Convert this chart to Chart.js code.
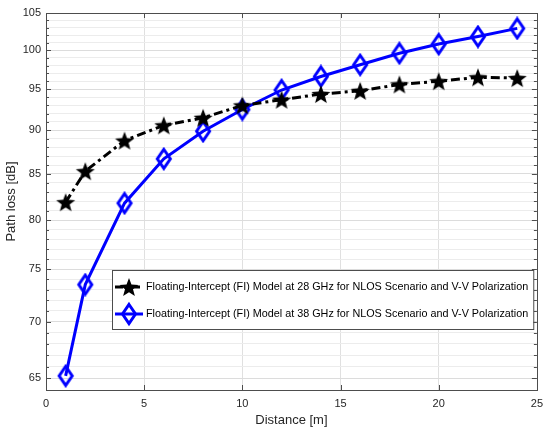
<!DOCTYPE html>
<html>
<head>
<meta charset="utf-8">
<script src="https://cdn.jsdelivr.net/npm/chart.js@4.4.1/dist/chart.umd.min.js"></script>
<style>
  html, body { margin: 0; padding: 0; background: #fff; }
  #wrap { width: 550px; height: 433px; }
</style>
</head>
<body>
<div id="wrap"><canvas id="grafico"></canvas></div>
<script>
// Dados
const distancias = [1, 2, 4, 6, 8, 10, 12, 14, 16, 18, 20, 22, 24];
const perda28 = [81.9, 85.3, 88.8, 90.6, 91.5, 93.0, 93.7, 94.4, 94.8, 95.6, 96.0, 96.5, 96.4];
const perda38 = [65.2, 73.5, 81.8, 86.7, 89.9, 92.5, 94.9, 96.6, 98.1, 99.6, 100.8, 101.8, 102.9];
const ticksX = [0, 5, 10, 15, 20, 25];
const ticksY = [65, 70, 75, 80, 85, 90, 95, 100, 105];
const nomes = [
    'Floating-Intercept (FI) Model at 28 GHz for NLOS Scenario and V-V Polarization',
    'Floating-Intercept (FI) Model at 38 GHz for NLOS Scenario and V-V Polarization'
];

const familia = '"Liberation Sans", Arial, sans-serif';
const fonte = { family: familia, size: 11 };
const fonteTitulo = { family: familia, size: 13 };
const corTexto = '#262626';
const corEixo = '#4d4d4d';

// Marcadores desenhados em canvas
function desenhaEstrela(ctx, cx, cy, r) {
    ctx.beginPath();
    for (let i = 0; i < 10; i++) {
        const raio = i % 2 === 0 ? r : r * 0.42;
        const ang = -Math.PI / 2 + i * Math.PI / 5;
        const x = cx + raio * Math.cos(ang);
        const y = cy + raio * Math.sin(ang);
        i === 0 ? ctx.moveTo(x, y) : ctx.lineTo(x, y);
    }
    ctx.closePath();
    ctx.fillStyle = '#000';
    ctx.fill();
}

function desenhaLosango(ctx, cx, cy, w, h) {
    ctx.beginPath();
    ctx.moveTo(cx, cy - h / 2);
    ctx.lineTo(cx + w / 2, cy);
    ctx.lineTo(cx, cy + h / 2);
    ctx.lineTo(cx - w / 2, cy);
    ctx.closePath();
    ctx.strokeStyle = '#0000ff';
    ctx.lineWidth = 3;
    ctx.lineJoin = 'miter';
    ctx.stroke();
}

function marcador(tipo) {
    const c = document.createElement('canvas');
    c.width = 22; c.height = 24;
    const ctx = c.getContext('2d');
    if (tipo === 'estrela') desenhaEstrela(ctx, 11, 13, 10);
    else desenhaLosango(ctx, 11, 12, 13, 19);
    return c;
}

const estrela = marcador('estrela');
const losango = marcador('losango');

// Legenda dentro da área do gráfico
const legendaInterna = {
    id: 'legendaInterna',
    afterDraw(chart) {
        const { ctx, chartArea } = chart;
        ctx.save();
        ctx.font = `10.8px ${familia}`;
        const textoW = Math.max(...nomes.map(n => ctx.measureText(n).width));
        const x0 = chartArea.left + 66;
        const y0 = chartArea.top + 257;
        const w = 34 + textoW + 5;
        const h = 59;
        ctx.fillStyle = '#fff';
        ctx.fillRect(x0, y0, w, h);
        ctx.strokeStyle = corEixo;
        ctx.lineWidth = 1;
        ctx.strokeRect(x0 + 0.5, y0 + 0.5, w, h);

        const linhas = [
            { y: y0 + 17, cor: '#000', dash: [8, 3, 3, 3], tipo: 'estrela' },
            { y: y0 + 44, cor: '#0000ff', dash: [], tipo: 'losango' }
        ];
        linhas.forEach((l, i) => {
            ctx.beginPath();
            ctx.setLineDash(l.dash);
            ctx.strokeStyle = l.cor;
            ctx.lineWidth = 3;
            ctx.moveTo(x0 + 3, l.y);
            ctx.lineTo(x0 + 31, l.y);
            ctx.stroke();
            ctx.setLineDash([]);
            if (l.tipo === 'estrela') desenhaEstrela(ctx, x0 + 17, l.y + 1, 10);
            else desenhaLosango(ctx, x0 + 17, l.y, 13, 19);
            ctx.fillStyle = '#000';
            ctx.textBaseline = 'middle';
            ctx.fillText(nomes[i], x0 + 34, l.y);
        });
        ctx.restore();
    }
};

// Caixa dos eixos com marcas internas (estilo MATLAB)
const caixaEixos = {
    id: 'caixaEixos',
    afterDatasetsDraw(chart) {
        const { ctx, chartArea: a, scales } = chart;
        ctx.save();
        ctx.strokeStyle = corEixo;
        ctx.lineWidth = 1;
        ctx.strokeRect(Math.round(a.left) + 0.5, Math.round(a.top) + 0.5,
            Math.round(a.right - a.left), Math.round(a.bottom - a.top));
        ctx.beginPath();
        scales.y.ticks.forEach(t => {
            const y = Math.round(scales.y.getPixelForValue(t.value)) + 0.5;
            const len = ticksY.includes(t.value) ? 5 : 3;
            ctx.moveTo(a.left, y); ctx.lineTo(a.left + len, y);
            ctx.moveTo(a.right, y); ctx.lineTo(a.right - len, y);
        });
        ticksX.forEach(v => {
            const x = Math.round(scales.x.getPixelForValue(v)) + 0.5;
            ctx.moveTo(x, a.bottom); ctx.lineTo(x, a.bottom - 5);
            ctx.moveTo(x, a.top); ctx.lineTo(x, a.top + 5);
        });
        ctx.stroke();
        ctx.restore();
    }
};

const ctxGrafico = document.getElementById('grafico').getContext('2d');
const grafico = new Chart(ctxGrafico, {
    type: 'line',
    data: {
        datasets: [
            {
                label: nomes[0],
                data: distancias.map((d, i) => ({ x: d, y: perda28[i] })),
                borderColor: '#000',
                borderWidth: 3,
                borderDash: [9, 4, 3, 4],
                pointStyle: estrela,
                pointRadius: 10,
                tension: 0
            },
            {
                label: nomes[1],
                data: distancias.map((d, i) => ({ x: d, y: perda38[i] })),
                borderColor: '#0000ff',
                borderWidth: 3,
                pointStyle: losango,
                pointRadius: 10,
                tension: 0
            }
        ]
    },
    options: {
        responsive: true,
        maintainAspectRatio: false,
        animation: false,
        layout: { padding: { top: 11, right: 12, left: 0, bottom: 0 } },
        plugins: {
            legend: { display: false },
            tooltip: { enabled: false }
        },
        scales: {
            x: {
                type: 'linear',
                min: 0,
                max: 25,
                afterBuildTicks: s => { s.ticks = ticksX.map(v => ({ value: v })); },
                ticks: { font: fonte, color: corTexto, padding: 7, maxRotation: 0 },
                grid: {
                    color: c => (c.tick && c.tick.value > 0 && c.tick.value < 25) ? '#e0e0e0' : 'rgba(0,0,0,0)',
                    drawTicks: false
                },
                border: { display: false },
                title: {
                    display: true,
                    text: 'Distance [m]',
                    font: fonteTitulo,
                    color: corTexto,
                    padding: { top: 0, bottom: 5 }
                },
                afterFit: s => { s.height = 43; }
            },
            y: {
                type: 'logarithmic',
                min: 64,
                max: 105,
                afterBuildTicks: s => {
                    s.ticks = [];
                    for (let v = 64; v <= 105; v++) s.ticks.push({ value: v });
                },
                ticks: {
                    font: fonte,
                    color: corTexto,
                    padding: 5,
                    autoSkip: false,
                    callback: v => ticksY.includes(v) ? String(v) : ''
                },
                grid: {
                    color: c => (c.tick && ticksY.includes(c.tick.value)) ? '#dcdcdc' : '#ececec',
                    drawTicks: false
                },
                border: { display: false },
                title: {
                    display: true,
                    text: 'Path loss [dB]',
                    font: fonteTitulo,
                    color: corTexto,
                    padding: { top: 4, bottom: 2 }
                },
                afterFit: s => { s.width = 46; }
            }
        }
    },
    plugins: [caixaEixos, legendaInterna]
});
</script>
</body>
</html>
